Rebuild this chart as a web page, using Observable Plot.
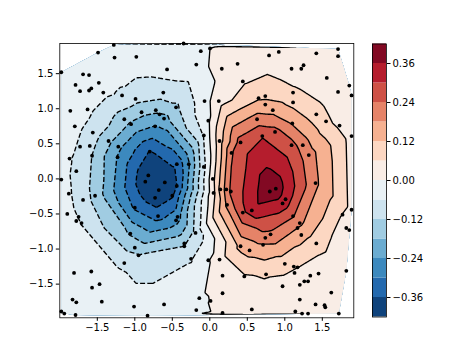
<!DOCTYPE html>
<html><head><meta charset="utf-8">
<script src="https://cdn.jsdelivr.net/npm/d3@7"></script>
<script src="https://cdn.jsdelivr.net/npm/@observablehq/plot@0.6"></script>
<style>
html,body{margin:0;padding:0;background:#fff;}
#wrap{position:relative;width:474px;height:355px;overflow:hidden;}
#wrap svg{position:absolute;top:0;}
</style></head><body><div id="wrap"></div>
<script>
// scattered sample positions
const xs = [
 -1.28,-1.49,-1.27,-0.98,-1.98,-1.69,-1.61,-1.79,-1.48,-1.73,-1.61,-1.58,-1.42,-1.17,-0.99,-1.86,-1.63,-0.91,-1.14,-1.05,
 -1.80,-1.56,-1.73,-1.60,-1.35,-1.22,-0.80,-1.87,-1.57,-1.23,-1.78,
 -0.35,-0.12,0.003,-0.18,0.16,0.37,-0.57,0.44,-0.62,-0.07,0.12,-0.45,-0.72,-0.67,-0.61,-0.73,-0.02,-0.08,0.13,0.41,0.29,0.04,-0.44,-0.28,-0.08,
 0.79,0.92,1.42,1.71,1.71,1.09,1.22,1.25,1.56,1.86,1.71,1.89,0.65,0.74,1.11,0.74,1.11,0.84,1.42,0.63,1.55,1.10,1.73,1.89,0.70,0.87,1.09,1.24,1.32,1.41,0.23,
 -0.86,-0.82,-1.88,-1.69,-1.53,-1.00,-1.90,-1.75,-1.78,-1.71,-1.06,-1.00,-0.95,-1.14,-1.81,-1.58,-1.47,-1.57,-1.83,-1.78,-1.44,-1.01,-1.98,-1.94,-1.79,-0.83,-0.61,-1.98,
 -0.60,-0.68,-0.73,-0.44,-0.50,0.05,0.14,0.22,0.28,0.44,0.56,-0.43,-0.45,-0.69,-0.19,-0.34,-0.34,0.41,0.53,-0.25,-0.02,0.13,0.17,0.46,-0.14,0.01,0.17,-0.18,0.17,0.56,
 0.80,0.88,0.97,1.01,1.11,1.20,1.17,1.89,1.77,1.82,1.86,0.74,0.81,1.22,0.71,1.42,1.00,1.12,1.17,1.13,0.75,1.34,1.45,1.82,0.97,1.20,1.26,1.31,1.20,1.62,1.41,1.53,1.54,1.14,1.23,1.31,1.72
];
const ys = [
 1.91,1.80,1.73,1.74,1.52,1.49,1.48,1.34,1.37,1.25,1.26,1.29,1.23,1.19,1.14,0.97,0.99,0.95,0.85,0.78,
 0.75,0.66,0.46,0.47,0.54,0.46,0.39,0.29,0.33,0.31,0.11,
 1.93,1.82,1.86,1.63,1.57,1.64,1.56,1.39,1.23,1.11,1.11,1.02,0.98,0.92,0.86,0.75,0.83,0.62,0.54,0.52,0.37,0.00,0.21,0.21,0.17,
 1.76,1.81,1.79,1.85,1.75,1.57,1.57,1.62,1.44,1.33,1.24,1.19,1.15,1.18,1.23,1.06,1.09,0.98,0.92,0.85,0.82,0.79,0.76,0.61,0.61,0.67,0.48,0.48,0.34,-0.06,-0.37,
 -0.04,0.05,-0.21,-0.30,-0.24,-0.41,-0.50,-0.54,-0.60,-0.63,-0.78,-0.98,-1.09,-1.20,-1.34,-1.32,-1.50,-1.55,-1.72,-1.76,-1.75,-1.82,-1.89,-1.92,-1.94,-1.95,-1.79,-0.01,
 -0.05,-0.16,-0.27,-0.10,-0.24,-0.20,-0.15,-0.15,-0.18,-0.48,-0.45,-0.54,-0.59,-0.53,-0.77,-0.92,-0.96,-0.96,-1.02,-1.14,-1.16,-1.15,-1.38,-1.39,-1.70,-1.74,-1.63,-1.87,-1.91,-1.86,
 -0.18,-0.14,-0.35,-0.29,-0.53,-0.63,-0.70,-0.44,-0.51,-0.70,-0.73,-0.84,-0.79,-0.80,-0.94,-0.92,-1.21,-1.25,-1.26,-1.34,-1.36,-1.38,-1.35,-1.31,-1.53,-1.51,-1.46,-1.46,-1.72,-1.62,-1.79,-1.80,-1.83,-1.89,-1.92,-1.92,-1.92
];
// sampled values at those positions
const zs = [
 -0.006,-0.006,-0.013,-0.018,-0.004,-0.010,-0.014,-0.012,-0.026,-0.018,-0.024,-0.025,-0.042,-0.073,-0.102,-0.023,-0.044,-0.162,-0.151,-0.190,
 -0.041,-0.088,-0.070,-0.099,-0.165,-0.225,-0.364,-0.053,-0.121,-0.244,-0.075,
 -0.008,-0.004,0.000,-0.013,0.014,0.022,-0.036,0.052,-0.093,-0.022,0.034,-0.131,-0.165,-0.185,-0.201,-0.243,-0.010,-0.056,0.094,0.267,0.234,0.041,-0.348,-0.247,-0.076,
 0.019,0.015,0.008,0.003,0.004,0.028,0.023,0.019,0.017,0.010,0.020,0.013,0.113,0.107,0.072,0.140,0.100,0.160,0.082,0.206,0.071,0.176,0.049,0.037,0.296,0.262,0.263,0.212,0.207,0.192,0.193,
 -0.411,-0.418,-0.053,-0.088,-0.139,-0.310,-0.040,-0.062,-0.052,-0.062,-0.187,-0.141,-0.117,-0.073,-0.011,-0.023,-0.018,-0.012,-0.003,-0.003,-0.008,-0.013,-0.001,-0.001,-0.002,-0.009,-0.017,-0.039,
 -0.417,-0.417,-0.399,-0.361,-0.368,0.045,0.138,0.203,0.251,0.286,0.335,-0.266,-0.260,-0.325,-0.102,-0.131,-0.120,0.138,0.142,-0.065,-0.004,0.033,0.025,0.054,-0.008,0.001,0.012,-0.005,0.004,0.013,
 0.409,0.398,0.334,0.334,0.246,0.192,0.180,0.044,0.058,0.040,0.034,0.213,0.226,0.146,0.177,0.082,0.085,0.067,0.061,0.052,0.067,0.033,0.029,0.012,0.036,0.029,0.030,0.028,0.015,0.009,0.008,0.006,0.005,0.009,0.007,0.006,0.002
];
const levels = [-0.42,-0.36,-0.30,-0.24,-0.18,-0.12,-0.06,0,0.06,0.12,0.18,0.24,0.30,0.36,0.42];
const axisTicks = [-1.5,-1,-0.5,0,0.5,1,1.5];
const barTicks = [-0.36,-0.24,-0.12,0,0.12,0.24,0.36];
const xDomain = [-2.0, 1.92];
const yDomain = [-1.98, 1.93];

if (xs.length !== ys.length || xs.length !== zs.length) throw new Error("length mismatch " + xs.length + " " + ys.length + " " + zs.length);

const pts = xs.map((x, i) => ({x, y: ys[i], z: zs[i]}));
// RdBu_r, linear segments like matplotlib
const stops = ["#053061","#2166ac","#4393c3","#92c5de","#d1e5f0","#f7f7f7","#fddbc7","#f4a582","#d6604d","#b2182b","#67001f"];
const cmap = d3.piecewise(d3.interpolateRgb, stops);
const nb = levels.length - 1;
const bandColors = d3.range(nb).map(i => cmap((2 * i + 1) / (2 * nb)));
const color = {type: "threshold", domain: levels.slice(1, -1), range: bandColors};
const negLevels = levels.filter(v => v < 0 && v > levels[0]);
const posLevels = levels.filter(v => v >= 0 && v < levels[levels.length - 1]);

const font = {fontFamily: "'DejaVu Sans', sans-serif", fontSize: "10px", color: "#000", background: "transparent", overflow: "visible"};
const common = {x: "x", y: "y", value: "z", interpolate: "barycentric", pixelSize: 1};

const main = Plot.plot({
  width: 360, height: 355,
  marginLeft: 59.3, marginRight: 6.7, marginTop: 43, marginBottom: 37.7,
  style: font,
  x: {domain: xDomain, ticks: axisTicks, tickFormat: ".1f", tickSize: 3.5, tickPadding: 2.5, label: null},
  y: {domain: yDomain, ticks: axisTicks, tickFormat: ".1f", tickSize: 3.5, tickPadding: 3, label: null},
  color,
  marks: [
    Plot.contour(pts, {...common, thresholds: levels.slice(0, -1), fill: "value", stroke: "none"}),
    Plot.contour(pts, {...common, thresholds: negLevels, fill: "none", stroke: "black", strokeWidth: 1.35, strokeDasharray: "5,2.2"}),
    Plot.contour(pts, {...common, thresholds: posLevels, fill: "none", stroke: "black", strokeWidth: 1.35}),
    Plot.dot(pts, {x: "x", y: "y", r: 1.9, fill: "black", stroke: "none"}),
    Plot.frame({stroke: "black", strokeWidth: 0.8})
  ]
});

// restrict the contour fill/lines to the triangulation hull, like tricontourf
const sx = main.scale("x"), sy = main.scale("y");
const hull = d3.polygonHull(pts.map(d => [sx.apply(d.x), sy.apply(d.y)]));
const ns = "http://www.w3.org/2000/svg";
const defs = document.createElementNS(ns, "defs");
const cp = document.createElementNS(ns, "clipPath");
cp.setAttribute("id", "hullclip");
const hp = document.createElementNS(ns, "path");
hp.setAttribute("d", "M" + hull.map(p => p.join(",")).join("L") + "Z");
cp.appendChild(hp); defs.appendChild(cp);
main.insertBefore(defs, main.firstChild);
main.querySelectorAll('g[aria-label="contour"]').forEach(g => g.setAttribute("clip-path", "url(#hullclip)"));

const bands = d3.range(nb).map(i => ({lo: levels[i], hi: levels[i + 1]}));
const bar = Plot.plot({
  width: 114, height: 355,
  marginLeft: 12, marginRight: 88, marginTop: 43.5, marginBottom: 38.5,
  style: font,
  x: {axis: null, domain: [0, 1]},
  y: {domain: [levels[0], levels[levels.length - 1]], ticks: barTicks, tickFormat: ".2f", tickSize: 3.5, tickPadding: 2.5, axis: "right", label: null},
  color,
  marks: [
    Plot.rect(bands, {y1: "lo", y2: "hi", fill: "lo"}),
    Plot.frame({stroke: "black", strokeWidth: 0.8})
  ]
});

const wrap = document.getElementById("wrap");
main.style.left = "0px";
bar.style.left = "360px";
wrap.appendChild(main);
wrap.appendChild(bar);
</script>
</body></html>
